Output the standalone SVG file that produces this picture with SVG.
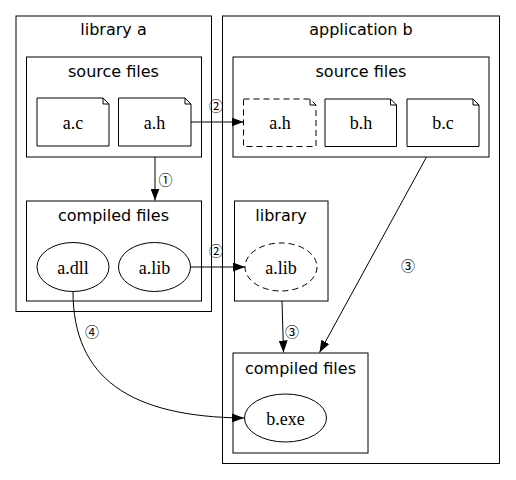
<svg xmlns="http://www.w3.org/2000/svg" width="516" height="480" viewBox="0 0 516 480">
<style>
.cl{fill:none;stroke:#000;stroke-width:1}
.ct{font-family:"DejaVu Sans","Liberation Sans",sans-serif;font-size:16px;text-anchor:middle;fill:#000}
.nd{fill:#fff;stroke:#000;stroke-width:1}
.ds{stroke-dasharray:6,4}
.nt{font-family:"Liberation Serif","DejaVu Serif",serif;font-size:18px;text-anchor:middle;fill:#000}
.ed{fill:none;stroke:#000;stroke-width:1;marker-end:url(#ah)}
.lb{font-family:"Noto Sans CJK JP","Noto Sans CJK SC","DejaVu Sans",sans-serif;font-size:14px;text-anchor:middle;fill:#000}
</style>
<defs>
<marker id="ah" markerUnits="userSpaceOnUse" markerWidth="12" markerHeight="9" refX="12" refY="4.5" orient="auto">
<path d="M0,0 L12,4.5 L0,9 Z" fill="#000"/>
</marker>
</defs>
<rect width="516" height="480" fill="#fff"/>
<g id="cluster_library_a">
<rect class="cl" x="16" y="16" width="195.5" height="295.5"/>
<text class="ct" x="113.5" y="35">library a</text>
</g>
<g id="cluster_application_b">
<rect class="cl" x="222.5" y="16" width="277" height="447.5"/>
<text class="ct" x="361" y="35">application b</text>
</g>
<g id="cluster_a_source">
<rect class="cl" x="26.5" y="57" width="175" height="100"/>
<text class="ct" x="113.5" y="77">source files</text>
</g>
<g id="cluster_a_compiled">
<rect class="cl" x="26.5" y="201" width="175" height="100"/>
<text class="ct" x="113.5" y="221">compiled files</text>
</g>
<g id="cluster_b_source">
<rect class="cl" x="233" y="57" width="256" height="100"/>
<text class="ct" x="361" y="77">source files</text>
</g>
<g id="cluster_b_library">
<rect class="cl" x="234.5" y="201" width="93.5" height="100"/>
<text class="ct" x="281" y="221">library</text>
</g>
<g id="cluster_b_compiled">
<rect class="cl" x="233" y="353" width="135" height="100"/>
<text class="ct" x="300.5" y="374">compiled files</text>
</g>
<g id="node_a_c">
<path class="nd" d="M37,98 H103 L109,104 V146 H37 Z"/>
<path class="cl" d="M103,98 V104 H109"/>
<text class="nt" x="73" y="129">a.c</text>
</g>
<g id="node_a_h">
<path class="nd" d="M118.5,98 H185 L191,104 V146 H118.5 Z"/>
<path class="cl" d="M185,98 V104 H191"/>
<text class="nt" x="154.5" y="129">a.h</text>
</g>
<g id="node_b_a_h">
<path class="nd ds" d="M243.5,99 H310 L316,105 V146.5 H243.5 Z"/>
<path class="cl" d="M310,99 V105 H316"/>
<text class="nt" x="280" y="129">a.h</text>
</g>
<g id="node_b_h">
<path class="nd" d="M325,99 H390.5 L396.5,105 V146.5 H325 Z"/>
<path class="cl" d="M390.5,99 V105 H396.5"/>
<text class="nt" x="361" y="129">b.h</text>
</g>
<g id="node_b_c">
<path class="nd" d="M407,99 H473 L479,105 V146.5 H407 Z"/>
<path class="cl" d="M473,99 V105 H479"/>
<text class="nt" x="443" y="129">b.c</text>
</g>
<g id="node_a_dll">
<ellipse class="nd" cx="73" cy="267" rx="36" ry="24.5"/>
<text class="nt" x="73" y="273.5">a.dll</text>
</g>
<g id="node_a_lib">
<ellipse class="nd" cx="154.5" cy="267" rx="36" ry="24.5"/>
<text class="nt" x="154.5" y="273.5">a.lib</text>
</g>
<g id="node_b_a_lib">
<ellipse class="nd ds" cx="281" cy="267" rx="36" ry="24"/>
<text class="nt" x="281" y="273.5">a.lib</text>
</g>
<g id="node_b_exe">
<ellipse class="nd" cx="285.5" cy="418" rx="41" ry="24"/>
<text class="nt" x="285.5" y="424.5">b.exe</text>
</g>
<g id="connectors">
<path class="ed" d="M155,157 L155,200.5"/>
<text class="lb" x="165.5" y="185">①</text>
<path class="ed" d="M191,122 L243.5,122"/>
<text class="lb" x="216" y="111">②</text>
<path class="ed" d="M190.5,267 L245,267"/>
<text class="lb" x="216" y="256">②</text>
<path class="ed" d="M426.5,157 L319.5,352.5"/>
<text class="lb" x="408" y="271">③</text>
<path class="ed" d="M282,301 L283.5,352.5"/>
<text class="lb" x="292" y="336.5">③</text>
<path class="ed" d="M73,291.5 C73,378 130,417 244,418"/>
<text class="lb" x="92" y="337">④</text>
</g>
</svg>
